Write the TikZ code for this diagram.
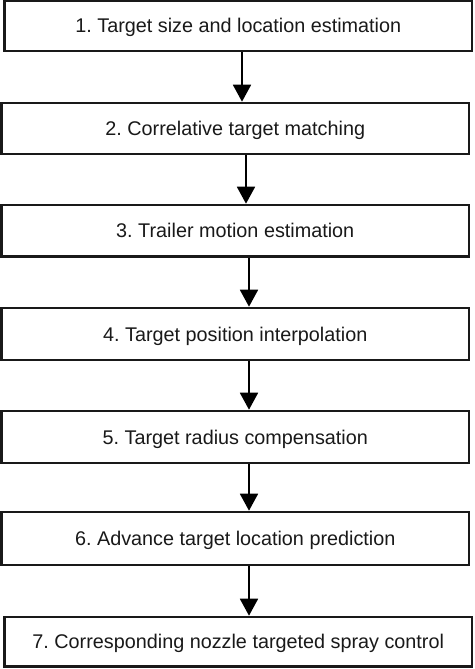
\documentclass[tikz,border=0pt]{standalone}
\usepackage{fontspec}
\setmainfont{Liberation Sans}
\usetikzlibrary{arrows.meta}
\frenchspacing
\begin{document}
\begin{tikzpicture}[x=1pt,y=-1pt,
  stepbox/.style={draw=black!90,line width=2.6pt,minimum width=467.5pt,inner sep=0pt,
    text height=14pt,text depth=0pt,
    font=\fontsize{19.8pt}{23pt}\selectfont,text=black!90},
  arr/.style={draw=black,line width=1.8pt,-{Triangle[width=18pt,length=17pt]}}]
\useasboundingbox (0,0) rectangle (474,669);
\fill[white] (0,0) rectangle (474,669);
\node[stepbox,minimum height=50.5pt] (b1) at (238.25,25.75) {1. Target size and location estimation};
\node[stepbox,minimum height=51pt] (b2) at (235.25,128.5) {2. Correlative target matching};
\node[stepbox,minimum height=51.5pt] (b3) at (235.25,230.75) {3. Trailer motion estimation};
\node[stepbox,minimum height=52pt] (b4) at (235.25,334) {4. Target position interpolation};
\node[stepbox,minimum height=52pt] (b5) at (235.25,437) {5. Target radius compensation};
\node[stepbox,minimum height=53pt] (b6) at (235.25,538.5) {6. Advance target location prediction};
\node[stepbox,minimum height=49.5pt] (b7) at (238.25,641.75) {7. Corresponding nozzle targeted spray control};
\draw[arr] (b1.south -| 242,0) -- (b2.north -| 242,0);
\draw[arr] (b2.south -| 246,0) -- (b3.north -| 246,0);
\draw[arr] (b3.south -| 249,0) -- (b4.north -| 249,0);
\draw[arr] (b4.south -| 249,0) -- (b5.north -| 249,0);
\draw[arr] (b5.south -| 249,0) -- (b6.north -| 249,0);
\draw[arr] (b6.south -| 249,0) -- (b7.north -| 249,0);
\end{tikzpicture}
\end{document}
